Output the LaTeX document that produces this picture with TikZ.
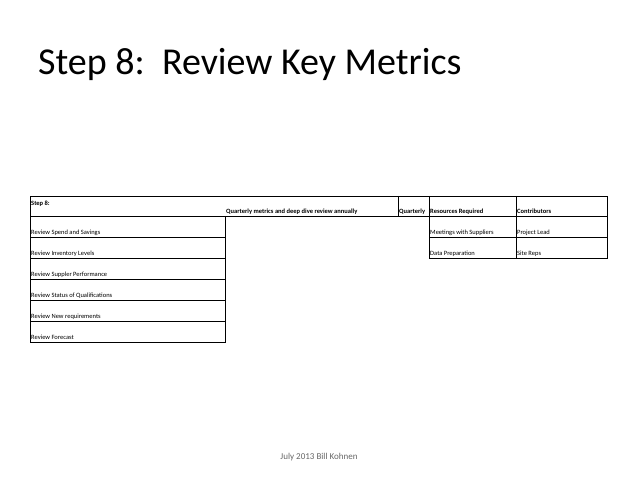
\documentclass[tikz,border=0pt]{standalone}
\usepackage{fontspec}
\setmainfont{Carlito}
\begin{document}
\begin{tikzpicture}[x=1pt,y=-1pt,
  cell/.style={anchor=base west,inner sep=0pt,font=\fontsize{6.5}{7}\selectfont},
  hcell/.style={cell,font=\fontsize{6.5}{7}\selectfont\bfseries},
  grid/.style={line width=0.8pt,black}]
\useasboundingbox (0,0) rectangle (638,478);
\node[anchor=base west,inner sep=0pt,font=\fontsize{38}{40}\selectfont] (title) at (38,75) {Step 8:\ \ Review Key Metrics};
% grid
\draw[grid] (30,196) rectangle (607,216);
\draw[grid] (398,196) -- (398,216);
\draw[grid] (429,196) -- (429,258) -- (607,258) -- (607,216);
\draw[grid] (516,196) -- (516,258);
\draw[grid] (429,237) -- (607,237);
\draw[grid] (30,216) rectangle (225,342);
\foreach \y in {237,258,279,300,321}{\draw[grid] (30,\y) -- (225,\y);}
% texts
\node[hcell] (s8) at (31,206) {Step 8:};
\node[hcell] (qm) at (226,214) {Quarterly metrics and deep dive review annually};
\node[hcell] (q) at (399,214) {Quarterly};
\node[hcell] (rr) at (430,214) {Resources Required};
\node[hcell] (co) at (517,214) {Contributors};
\node[cell] (r1) at (31,235) {Review Spend and Savings};
\node[cell] (r2) at (31,256) {Review Inventory Levels};
\node[cell] (r3) at (31,277) {Review Suppler Performance};
\node[cell] (r4) at (31,298) {Review Status of Qualifications};
\node[cell] (r5) at (31,319) {Review New requirements};
\node[cell] (r6) at (31,340) {Review Forecast};
\node[cell] (m1) at (430,235) {Meetings with Suppliers};
\node[cell] (m2) at (430,256) {Data Preparation};
\node[cell] (c1) at (517,235) {Project Lead};
\node[cell] (c2) at (517,256) {Site Reps};
\node[anchor=base,inner sep=0pt,font=\fontsize{9}{10}\selectfont,text=black!60] (foot) at (319,460) {July 2013 Bill Kohnen};
\end{tikzpicture}
\end{document}
